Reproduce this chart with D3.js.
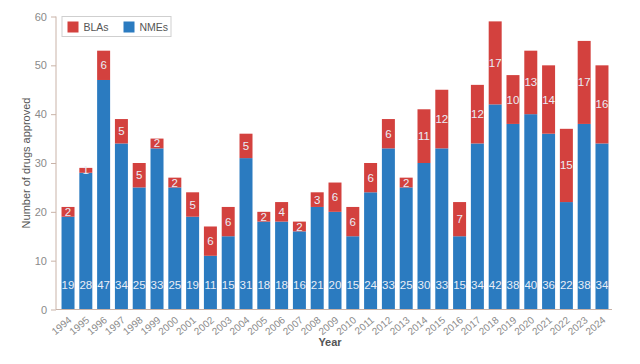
<!DOCTYPE html>
<html><head><meta charset="utf-8">
<script src="https://cdn.jsdelivr.net/npm/d3@7"></script>
<style>body{margin:0;background:#fff}svg{display:block;font-family:"Liberation Sans",Arial,sans-serif}</style>
</head><body>
<svg id="c" width="640" height="364"></svg>
<script>
const years = ["1994","1995","1996","1997","1998","1999","2000","2001","2002","2003","2004","2005","2006","2007","2008","2009","2010","2011","2012","2013","2014","2015","2016","2017","2018","2019","2020","2021","2022","2023","2024"];
const nmes = [19,28,47,34,25,33,25,19,11,15,31,18,18,16,21,20,15,24,33,25,30,33,15,34,42,38,40,36,22,38,34];
const blas = [2,1,6,5,5,2,2,5,6,6,5,2,4,2,3,6,6,6,6,2,11,12,7,12,17,10,13,14,15,17,16];
const yTicks = [0,10,20,30,40,50,60];
const seriesNames = ["BLAs","NMEs"];
const colors = {BLAs:"#d3413e", NMEs:"#2b7bc0"};

const svg = d3.select("#c");
const x = d3.scaleBand().domain(years).range([58.5,611.5]).paddingInner(0.27).paddingOuter(0.17);
const y = d3.scaleLinear().domain([0,60]).range([309.5,16.5]);

const data = years.map((yr,i)=>({year:yr,NMEs:nmes[i],BLAs:blas[i]}));
const stack = d3.stack().keys(["NMEs","BLAs"])(data);

svg.append("g").selectAll("g").data(stack).join("g")
  .attr("fill",d=>colors[d.key])
  .selectAll("rect").data(d=>d.map(v=>({v,key:d.key}))).join("rect")
  .attr("x",d=>x(d.v.data.year))
  .attr("width",x.bandwidth())
  .attr("y",d=>y(d.v[1]))
  .attr("height",d=>y(d.v[0])-y(d.v[1]));

// labels
const lab = svg.append("g").attr("fill","#e9eef6").attr("font-size",11.5).attr("text-anchor","middle");
data.forEach(d=>{
  lab.append("text").attr("x",x(d.year)+x.bandwidth()/2).attr("y",y(5)).attr("dy","0.35em").text(d.NMEs);
  lab.append("text").attr("x",x(d.year)+x.bandwidth()/2).attr("y",y(d.NMEs+d.BLAs/2)).attr("dy","0.35em").text(d.BLAs);
});

// axes
const axisColor = "#c9b3a8";
const yAxis = svg.append("g").attr("transform","translate(56,0)")
  .call(d3.axisLeft(y).tickValues(yTicks).tickSize(5).tickPadding(4));
yAxis.select(".domain").attr("stroke",axisColor).attr("d","M0,16.5V309.5");
yAxis.selectAll(".tick line").attr("stroke",axisColor);
yAxis.selectAll("text").attr("fill","#8a8a8a").attr("font-size",11).attr("font-family","Liberation Sans, Arial, sans-serif");

const xAxis = svg.append("g").attr("transform","translate(0,309.5)")
  .call(d3.axisBottom(x).tickSize(0).tickPadding(0));
xAxis.select(".domain").attr("stroke",axisColor).attr("d","M56,0H612");
xAxis.selectAll("text").attr("fill","#8a8a8a").attr("font-size",10).attr("font-family","Liberation Sans, Arial, sans-serif")
  .attr("text-anchor","end").attr("x",0).attr("y",0).attr("dx","0").attr("dy","0.35em")
  .attr("transform","translate(2,9) rotate(-40)");

svg.append("text").attr("x",330).attr("y",346).attr("text-anchor","middle").attr("font-size",11).attr("fill","#555").attr("font-weight","bold").text("Year");
svg.append("text").attr("transform","translate(30,163) rotate(-90)").attr("text-anchor","middle").attr("font-size",11).attr("fill","#555").text("Number of drugs approved");

// legend
const lg = svg.append("g");
lg.append("rect").attr("x",62).attr("y",16.5).attr("width",109).attr("height",20).attr("fill","#fff").attr("stroke","#cfcfcf");
seriesNames.forEach((s,i)=>{
  const ox = 67.5 + i*56;
  lg.append("rect").attr("x",ox).attr("y",21.5).attr("width",11).attr("height",11).attr("fill",colors[s]);
  lg.append("text").attr("x",ox+16).attr("y",27).attr("dy","0.35em").attr("font-size",10.5).attr("fill","#555").text(s);
});
</script>
</body></html>
